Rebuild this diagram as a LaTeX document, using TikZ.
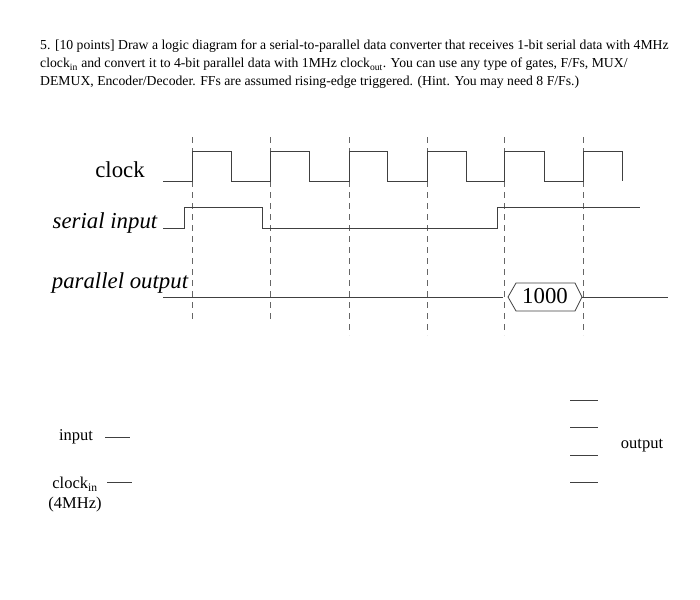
\documentclass[tikz,border=0pt]{standalone}
\usepackage{fontspec}
\setmainfont{Liberation Serif}
\begin{document}
\begin{tikzpicture}[x=1pt,y=-1pt,
  wave/.style={line width=0.8pt,draw=black!75},
  grid/.style={dashed,draw=black!60,line width=0.5pt,dash pattern=on 6pt off 5pt},
  hdr/.style={anchor=base west,inner sep=0,font=\fontsize{13.7}{15}\selectfont},
  lbl/.style={font=\fontsize{22.8}{24}\selectfont,inner sep=0},
  sm/.style={font=\fontsize{16.5}{18}\selectfont,inner sep=0}]
\useasboundingbox (0,0) rectangle (700,599);
\node[hdr] (h1) at (40,50) {5. [10 points] Draw a logic diagram for a serial-to-parallel data converter that receives 1-bit serial data with 4MHz};
\node[hdr] (h2) at (40,68) {clock\textsubscript{in} and convert it to 4-bit parallel data with 1MHz clock\textsubscript{out}. You can use any type of gates, F/Fs, MUX/};
\node[hdr] (h3) at (40,86) {DEMUX, Encoder/Decoder. FFs are assumed rising-edge triggered. (Hint. You may need 8 F/Fs.)};
\foreach \x/\e in {192/320,270/320,349/335,427/335,504/335,583/335}
  \draw[grid] (\x,137) -- (\x,\e);
\draw[wave] (163,181) -- (192,181) -- (192,151) -- (231,151) -- (231,181) -- (270,181) -- (270,151) -- (309,151) -- (309,181) -- (349,181) -- (349,151) -- (387,151) -- (387,181) -- (427,181) -- (427,151) -- (466,151) -- (466,181) -- (504,181) -- (504,151) -- (544,151) -- (544,181) -- (583,181) -- (583,151) -- (622,151) -- (622,181);
\draw[wave] (163,228) -- (184,228) -- (184,207) -- (262,207) -- (262,228) -- (497,228) -- (497,207) -- (640,207);
\draw[wave] (163,297) -- (503,297);
\draw[wave] (508,297) -- (516,283) -- (575,283) -- (582,297) -- (575,311) -- (516,311) -- cycle;
\draw[wave] (582,297) -- (668,297);
\node[lbl] (v) at (545,296) {1000};
\node[lbl] (c) at (120,170) {clock};
\node[lbl,font=\fontsize{22.8}{24}\selectfont\itshape] (s) at (105,223) {serial input};
\node[lbl,font=\fontsize{22.8}{24}\selectfont\itshape] (p) at (120,283) {parallel output};
\node[sm] (in) at (76,437) {input};
\draw[wave] (105,437) -- (130,437);
\node[sm] (ck) at (75,484) {clock\textsubscript{in}};
\draw[wave] (107,482) -- (132,482);
\node[sm] (mz) at (75,505) {(4MHz)};
\foreach \y in {400,427,455,482} \draw[wave] (570,\y) -- (598,\y);
\node[sm] (out) at (642,446) {output};
\end{tikzpicture}
\end{document}
